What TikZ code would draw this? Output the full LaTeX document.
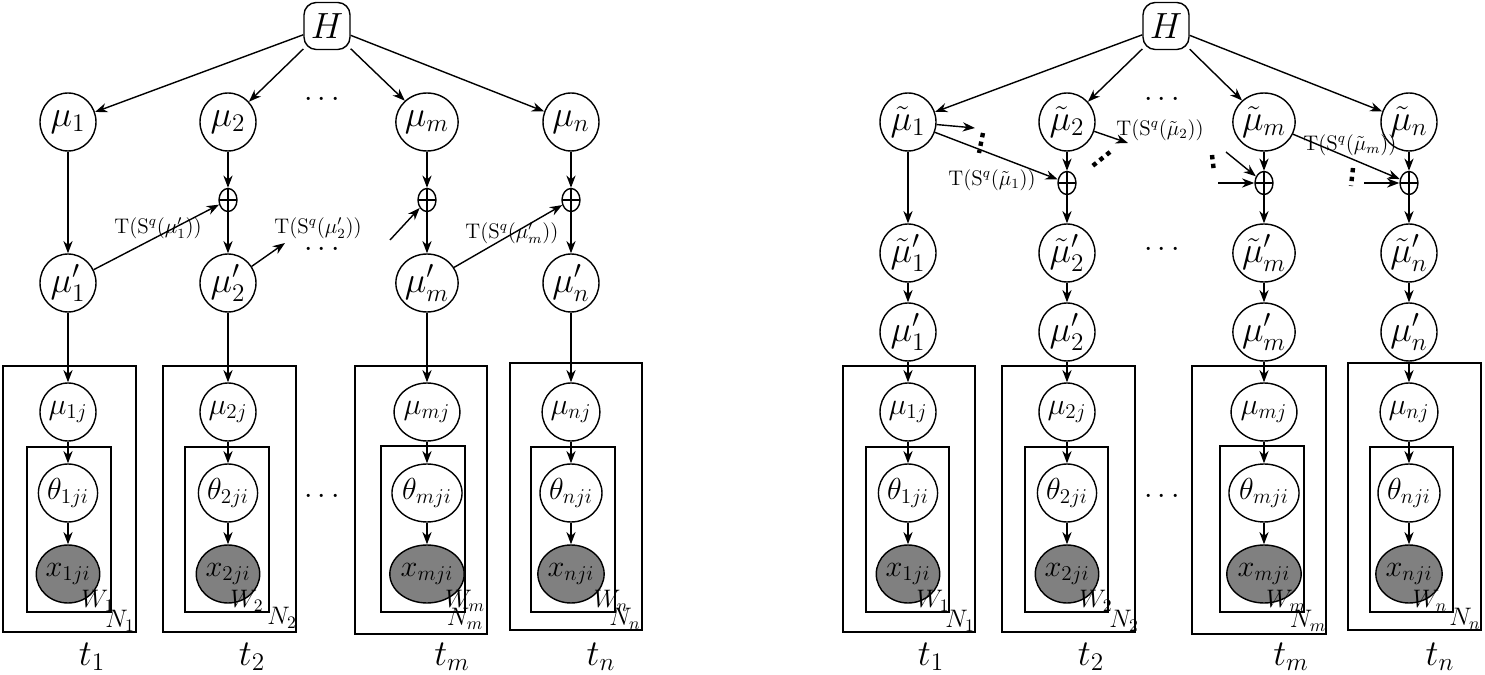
\documentclass[tikz,border=0pt]{standalone}
\usetikzlibrary{shapes.geometric,arrows.meta}
\begin{document}
\begin{tikzpicture}[x=0.02cm,y=-0.02cm,
  var/.style={draw,thick,ellipse,minimum width=1.12cm,minimum height=1.16cm,inner sep=0pt,font=\huge},
  low/.style={var,font=\LARGE},
  obs/.style={low,fill=black!50},
  pl/.style={draw,thick,ellipse,minimum width=0.36cm,minimum height=0.46cm,inner sep=0pt,
    path picture={\draw[thick] (path picture bounding box.north) -- (path picture bounding box.south)
      (path picture bounding box.west) -- (path picture bounding box.east);}},
  hyp/.style={draw,thick,rectangle,rounded corners=7pt,minimum width=0.92cm,minimum height=0.94cm,inner sep=0pt,font=\huge},
  plate/.style={draw,thick},
  ed/.style={-{Stealth[length=7pt]},thick},
  lab/.style={font=\large,inner sep=0pt},
  sub/.style={font=\Large,inner sep=0pt},
  tl/.style={font=\huge,inner sep=0pt},
  dd/.style={line width=2.5pt,dash pattern=on 2.5pt off 2.5pt}]
\useasboundingbox (0,0) rectangle (1485,675);
% ---------- left panel ----------
\node[hyp] (H) at (327,26) {$H$};
\foreach \n/\x/\s in {a/68/1,b/228/2,m/427/m,n/571/n}{
  \node[var] (u\n) at (\x,122) {$\mu_\s$};
  \node[var] (p\n) at (\x,283) {$\mu'_\s$};
  \node[low] (j\n) at (\x,412) {$\mu_{\s j}$};
  \node[low] (t\n) at (\x,493) {$\theta_{\s ji}$};
  \node[obs] (x\n) at (\x,574) {$x_{\s ji}$};
  \draw[ed] (H) -- (u\n);
  \draw[ed] (p\n) -- (j\n);
  \draw[ed] (j\n) -- (t\n);
  \draw[ed] (t\n) -- (x\n);
}
\foreach \n in {b,m,n}{
  \node[pl] (o\n) at (u\n |- 0,200) {};
  \draw[ed] (u\n) -- (o\n);
  \draw[ed] (o\n) -- (p\n);
}
\draw[ed] (ua) -- (pa);
\draw[plate] (3,366) rectangle (136,632);   \draw[plate] (27,447) rectangle (111,612);
\draw[plate] (163,366) rectangle (296,632); \draw[plate] (185,447) rectangle (269,612);
\draw[plate] (355,366) rectangle (487,634); \draw[plate] (381,446) rectangle (465,612);
\draw[plate] (510,363) rectangle (642,630); \draw[plate] (531,447) rectangle (615,612);
\node[sub] at (98,601) {$W_1$};   \node[sub] at (120,621) {$N_1$};
\node[sub] at (247,601) {$W_2$};  \node[sub] at (282,618) {$N_2$};
\node[sub] at (465,601) {$W_m$};  \node[sub] at (465,619) {$N_m$};
\node[sub] at (611,601) {$W_n$};  \node[sub] at (625,619) {$N_n$};
\node[tl] at (92,657) {$t_1$};
\node[tl] at (252,657) {$t_2$};
\node[tl] at (452,657) {$t_m$};
\node[tl] at (601,657) {$t_n$};
\node[font=\LARGE] at (322,100) {$\cdots$};
\node[font=\LARGE] at (322,250) {$\cdots$};
\node[font=\LARGE] at (322,497) {$\cdots$};
\coordinate (e2) at (285,243);
\coordinate (sm) at (390,240);
\draw[ed] (pa) -- (ob);
\draw[ed] (pb) -- (e2);
\draw[ed] (sm) -- (om);
\draw[ed] (pm) -- (on);
\node[lab] at (158,228) {$\mathrm{T}(\mathrm{S}^q(\mu'_1))$};
\node[lab] at (318,228) {$\mathrm{T}(\mathrm{S}^q(\mu'_2))$};
\node[lab] at (512,233) {$\mathrm{T}(\mathrm{S}^q(\mu'_m))$};
% ---------- right panel ----------
\node[hyp] (H2) at (1166,26) {$H$};
\foreach \n/\x/\s in {a/908/1,b/1067/2,m/1264/m,n/1409/n}{
  \node[var] (v\n) at (\x,122) {$\tilde\mu_\s$};
  \node[var] (w\n) at (\x,253) {$\tilde\mu'_\s$};
  \node[var] (q\n) at (\x,332) {$\mu'_\s$};
  \node[low] (k\n) at (\x,412) {$\mu_{\s j}$};
  \node[low] (r\n) at (\x,493) {$\theta_{\s ji}$};
  \node[obs] (y\n) at (\x,574) {$x_{\s ji}$};
  \draw[ed] (H2) -- (v\n);
  \draw[ed] (w\n) -- (q\n);
  \draw[ed] (q\n) -- (k\n);
  \draw[ed] (k\n) -- (r\n);
  \draw[ed] (r\n) -- (y\n);
}
\foreach \n in {b,m,n}{
  \node[pl] (c\n) at (v\n |- 0,183) {};
  \draw[ed] (v\n) -- (c\n);
  \draw[ed] (c\n) -- (w\n);
}
\draw[ed] (va) -- (wa);
\draw[plate] (843,366) rectangle (975,632);   \draw[plate] (866,447) rectangle (949,612);
\draw[plate] (1002,366) rectangle (1135,632); \draw[plate] (1025,447) rectangle (1108,612);
\draw[plate] (1192,366) rectangle (1326,634); \draw[plate] (1220,446) rectangle (1304,612);
\draw[plate] (1348,363) rectangle (1481,630); \draw[plate] (1370,447) rectangle (1453,612);
\node[sub] at (933,601) {$W_1$};   \node[sub] at (960,621) {$N_1$};
\node[sub] at (1096,601) {$W_2$};  \node[sub] at (1124,621) {$N_2$};
\node[sub] at (1286,601) {$W_m$};  \node[sub] at (1308,621) {$N_m$};
\node[sub] at (1430,601) {$W_n$};  \node[sub] at (1465,619) {$N_n$};
\node[tl] at (931,657) {$t_1$};
\node[tl] at (1091,657) {$t_2$};
\node[tl] at (1291,657) {$t_m$};
\node[tl] at (1440,657) {$t_n$};
\node[font=\LARGE] at (1162,100) {$\cdots$};
\node[font=\LARGE] at (1162,250) {$\cdots$};
\node[font=\LARGE] at (1162,497) {$\cdots$};
\coordinate (f1) at (975,128);
\coordinate (f2) at (1128,143);
\coordinate (gm1) at (1226,152);
\coordinate (gm2) at (1218,183);
\coordinate (gn) at (1364,183);
\draw[ed] (va) -- (f1);
\draw[ed] (va) -- (cb);
\draw[ed] (vb) -- (f2);
\draw[ed] (gm1) -- (cm);
\draw[ed] (gm2) -- (cm);
\draw[ed] (vm) -- (cn);
\draw[ed] (gn) -- (cn);
\draw[dd] (983,133) -- (979,153);
\draw[dd] (1110,152) -- (1090,168);
\draw[dd] (1212,155) -- (1214,172);
\draw[dd] (1353,168) -- (1351,186);
\node[lab] at (992,180) {$\mathrm{T}(\mathrm{S}^q(\tilde\mu_1))$};
\node[lab] at (1160,130) {$\mathrm{T}(\mathrm{S}^q(\tilde\mu_2))$};
\node[lab] at (1350,145) {$\mathrm{T}(\mathrm{S}^q(\tilde\mu_m))$};
\end{tikzpicture}
\end{document}
